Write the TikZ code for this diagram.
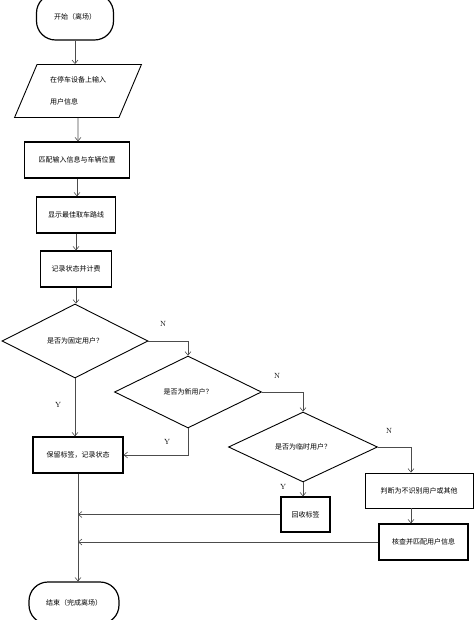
\documentclass[tikz,border=0pt]{standalone}
\usepackage{fontspec}
\newfontfamily\cjk{Noto Sans CJK SC}
\usetikzlibrary{positioning}
\usetikzlibrary{shapes.geometric,arrows.meta}

\begin{document}
\begin{tikzpicture}[x=1pt,y=-1pt,
	every node/.style={font=\cjk\fontsize{7}{11}\selectfont},
	box/.style={draw,line width=1.3pt,inner sep=2pt,minimum height=36pt},
	test/.style={diamond,draw,line width=0.9pt,inner sep=0pt},
	term/.style={draw,line width=1.2pt,rounded corners=19pt},
	arr/.style={draw=black!70,line width=0.6pt,-{Straight Barb[length=3.5pt,width=6pt]}},
	yn/.style={font=\rmfamily\fontsize{7.5}{8}\selectfont}]
	\useasboundingbox (0,0) rectangle (474,620);
	% main column
	\node[term,minimum width=77pt,minimum height=46pt](start) at (75,17) {开始（离场）};
	\node[draw,line width=0.9pt,trapezium,trapezium left angle=64,trapezium right angle=116,
		trapezium stretches=true,minimum width=127pt,minimum height=53pt,align=left]
		(input) at (78,91) {在停车设备上输入\\[11pt]用户信息};
	\node[box,minimum width=105pt](match) at (77,160) {匹配输入信息与车辆位置};
	\node[box,minimum width=79pt](route) at (76,215) {显示最佳取车路线};
	\node[box,minimum width=71pt](bill) at (76,269) {记录状态并计费};
	\node[test,minimum width=146pt,minimum height=74pt](fixed) at (75,341) {是否为固定用户？};
	\node[box,minimum width=90pt](keep) at (78,455) {保留标签，记录状态};
	\node[term,minimum width=90pt,minimum height=42pt](end) at (74,603) {结束（完成离场）};
	% right branches
	\node[test,minimum width=147pt,minimum height=72pt](newu) at (188,392) {是否为新用户？};
	\node[test,minimum width=149pt,minimum height=70pt](temp) at (303,447) {是否为临时用户？};
	\node[box,minimum width=49pt,minimum height=35pt](recycle) at (305.5,514.5) {回收标签};
	\node[draw,line width=0.9pt,minimum width=108pt,minimum height=35pt](judge) at (419,490.5) {判断为不识别用户或其他};
	\node[box,minimum width=89pt](check) at (423.5,542) {核查并匹配用户信息};
	% labels
	\node[yn](n1) at (163,324) {N};
	\node[yn](n2) at (277,376) {N};
	\node[yn](n3) at (389,431) {N};
	\node[yn](y1) at (58,405) {Y};
	\node[yn](y2) at (167,442) {Y};
	\node[yn](y3) at (283,487) {Y};

	\draw[arr] (start) -- (start |- input.north);
	\draw[arr] (input) -- (input |- match.north);
	\draw[arr] (match) -- (match |- route.north);
	\draw[arr] (route) -- (route |- bill.north);
	\draw[arr] (bill) -- (bill |- fixed.north);
	\draw[arr] (fixed.south) -- (fixed.south |- keep.north);
	\draw[arr] (fixed.east) -| (newu.north);
	\draw[arr] (newu.south) |- (keep.east);
	\draw[arr] (newu.east) -| (temp.north);
	\draw[arr] (temp.south) -- (temp.south |- recycle.north);
	\draw[arr] (temp.east) -| ([xshift=-8pt]judge.north);
	\draw[arr] ([xshift=-8pt]judge.south) -- ([xshift=-8pt]judge.south |- check.north);
	\draw[arr] (recycle.west) -- (recycle.west -| keep.south);
	\draw[arr] (check.west) -- (check.west -| keep.south);
	\draw[arr] (keep) -- (keep |- end.north);
\end{tikzpicture}
\end{document}
